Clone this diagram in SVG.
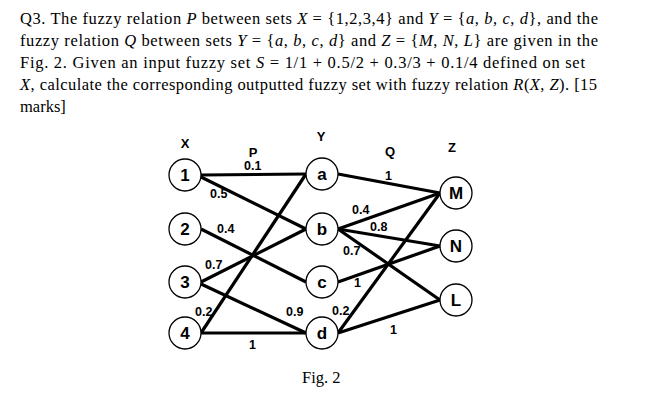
<svg xmlns="http://www.w3.org/2000/svg" width="665" height="412" viewBox="0 0 665 412">
<style>
.t{font-family:"Liberation Serif",serif;font-size:16.5px;fill:#000}
.i{font-style:italic}
.n circle{fill:#fff;stroke:#000;stroke-width:1.3}
.n text{font-family:"Liberation Sans",sans-serif;font-weight:bold;font-size:17px;text-anchor:middle}
.h{font-family:"Liberation Sans",sans-serif;font-weight:bold;font-size:13px;text-anchor:middle}
.l{font-family:"Liberation Sans",sans-serif;font-weight:bold;font-size:12.5px}
#edges line{stroke:#000;stroke-width:3.2}
</style>
<rect width="665" height="412" fill="#fff"/>
<text class="t" x="20" y="24" textLength="578" lengthAdjust="spacing">Q3. The fuzzy relation <tspan class="i">P</tspan> between sets <tspan class="i">X</tspan> = {1,2,3,4} and <tspan class="i">Y</tspan> = {<tspan class="i">a</tspan>, <tspan class="i">b</tspan>, <tspan class="i">c</tspan>, <tspan class="i">d</tspan>}, and the</text>
<text class="t" x="20" y="46" textLength="578" lengthAdjust="spacing">fuzzy relation <tspan class="i">Q</tspan> between sets <tspan class="i">Y</tspan> = {<tspan class="i">a</tspan>, <tspan class="i">b</tspan>, <tspan class="i">c</tspan>, <tspan class="i">d</tspan>} and <tspan class="i">Z</tspan> = {<tspan class="i">M</tspan>, <tspan class="i">N</tspan>, <tspan class="i">L</tspan>} are given in the</text>
<text class="t" x="20" y="68" textLength="565" lengthAdjust="spacing">Fig. 2. Given an input fuzzy set <tspan class="i">S</tspan> = 1/1 + 0.5/2 + 0.3/3 + 0.1/4 defined on set</text>
<text class="t" x="20" y="90" textLength="577" lengthAdjust="spacing"><tspan class="i">X</tspan>, calculate the corresponding outputted fuzzy set with fuzzy relation <tspan class="i">R</tspan>(<tspan class="i">X</tspan>, <tspan class="i">Z</tspan>). [15</text>
<text class="t" x="20" y="112">marks]</text>
<text class="h" x="185" y="148">X</text>
<text class="h" x="253" y="157">P</text>
<text class="h" x="321" y="141">Y</text>
<text class="h" x="390" y="156">Q</text>
<text class="h" x="452" y="152">Z</text>
<g id="edges">
<line x1="201" y1="175" x2="306" y2="174"/>
<line x1="201" y1="177" x2="306" y2="229"/>
<line x1="201" y1="229" x2="306" y2="282"/>
<line x1="201" y1="282" x2="306" y2="229"/>
<line x1="201" y1="284" x2="306" y2="333"/>
<line x1="201" y1="333" x2="306" y2="174"/>
<line x1="201" y1="333" x2="306" y2="333"/>
<line x1="338" y1="174" x2="440" y2="193"/>
<line x1="338" y1="229" x2="440" y2="193"/>
<line x1="338" y1="229" x2="440" y2="246"/>
<line x1="338" y1="229" x2="440" y2="300"/>
<line x1="338" y1="282" x2="440" y2="246"/>
<line x1="338" y1="333" x2="440" y2="193"/>
<line x1="338" y1="333" x2="440" y2="300"/>
</g>
<g id="x1" class="n"><circle cx="185" cy="175" r="16"/><text x="185" y="181">1</text></g>
<g id="x2" class="n"><circle cx="185" cy="229" r="16"/><text x="185" y="235">2</text></g>
<g id="x3" class="n"><circle cx="185" cy="282" r="16"/><text x="185" y="288">3</text></g>
<g id="x4" class="n"><circle cx="185" cy="333" r="16"/><text x="185" y="339">4</text></g>
<g id="ya" class="n"><circle cx="322" cy="174" r="16"/><text x="322" y="180">a</text></g>
<g id="yb" class="n"><circle cx="322" cy="229" r="16"/><text x="322" y="235">b</text></g>
<g id="yc" class="n"><circle cx="322" cy="282" r="16"/><text x="322" y="288">c</text></g>
<g id="yd" class="n"><circle cx="322" cy="333" r="16"/><text x="322" y="339">d</text></g>
<g id="zM" class="n"><circle cx="456" cy="193" r="16"/><text x="456" y="199">M</text></g>
<g id="zN" class="n"><circle cx="456" cy="246" r="16"/><text x="456" y="252">N</text></g>
<g id="zL" class="n"><circle cx="456" cy="300" r="16"/><text x="456" y="306">L</text></g>
<g id="labels">
<text class="l" x="244" y="170">0.1</text>
<text class="l" x="210" y="198">0.5</text>
<text class="l" x="217" y="233">0.4</text>
<text class="l" x="205" y="269">0.7</text>
<text class="l" x="195" y="316">0.2</text>
<text class="l" x="286" y="316">0.9</text>
<text class="l" x="249" y="349">1</text>
<text class="l" x="385" y="180">1</text>
<text class="l" x="352" y="214">0.4</text>
<text class="l" x="370" y="231">0.8</text>
<text class="l" x="343" y="255">0.7</text>
<text class="l" x="354" y="287">1</text>
<text class="l" x="332" y="315">0.2</text>
<text class="l" x="390" y="334">1</text>
</g>
<text class="t" x="302" y="383">Fig. 2</text>
</svg>
